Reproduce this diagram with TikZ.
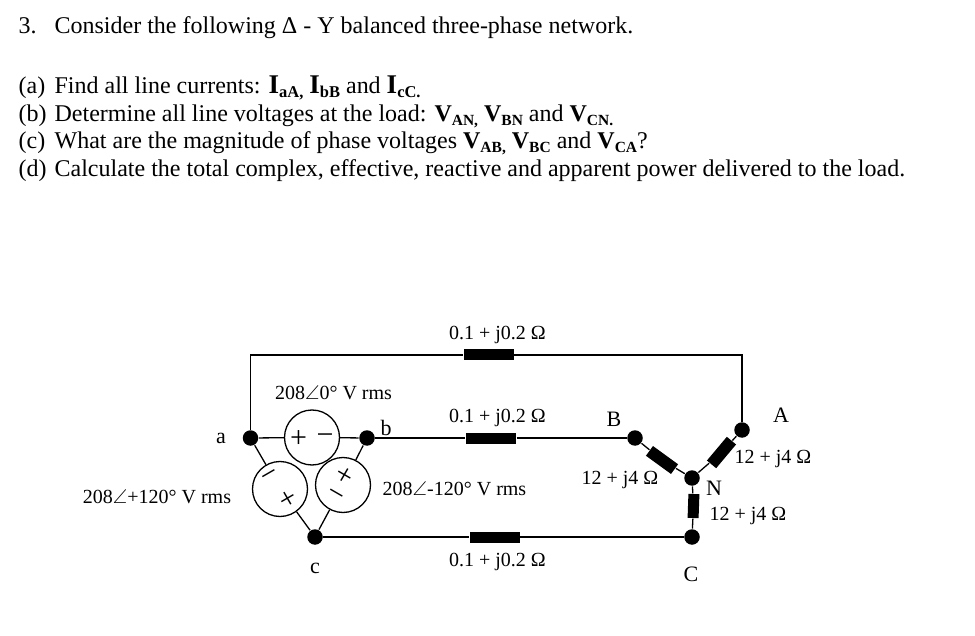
\documentclass[tikz,border=0pt]{standalone}
\usepackage{amsmath,amssymb}
\usepackage{xcolor}
\usepackage{fontspec}
\setmainfont{Liberation Serif}
\usetikzlibrary{shapes}

\newcommand{\bigtxt}{\fontsize{24}{28}\selectfont}
\newcommand{\smalltxt}{\fontsize{20}{24}\selectfont}
\newcommand{\lab}[2]{\textbf{#1\raisebox{-0.3ex}{\fontsize{15.5}{15.5}\selectfont #2}}}
\newcommand{\labI}[2]{\textbf{\fontsize{27}{28}\selectfont #1\raisebox{-0.3ex}{\fontsize{16.5}{16.5}\selectfont #2}}}
\newcommand{\itm}[1]{\makebox[36pt][l]{#1}}

\begin{document}
\begin{tikzpicture}[x=1pt, y=-1pt, line width=1.3pt, inner sep=0pt, font=\smalltxt]
\useasboundingbox (0,0) rectangle (975,636);

\tikzstyle{line}=[anchor=base west, font=\bigtxt]
\tikzstyle{dot}=[circle, fill=black, minimum size=15.5pt]
\tikzstyle{res}=[rectangle, fill=black, minimum width=50pt, minimum height=11pt]
\tikzstyle{load}=[res, minimum width=31pt, minimum height=12pt]
\tikzstyle{src}=[circle, draw, minimum size=55pt]
\tikzstyle{sign}=[font=\fontsize{30}{30}\selectfont]
\tikzstyle{letter}=[font=\fontsize{22}{24}\selectfont]

% question text
\node [line] (q0) at (18,34) {\itm{3.}Consider the following Δ - Y balanced three-phase network.};
\node [line] (qa) at (18,94) {\itm{(a)}Find all line currents: \labI{I}{aA,} \labI{I}{bB} and \labI{I}{cC.}};
\node [line] (qb) at (18,122) {\itm{(b)}Determine all line voltages at the load: \lab{V}{AN,} \lab{V}{BN} and \lab{V}{CN.}};
\node [line] (qc) at (18,149) {\itm{(c)}What are the magnitude of phase voltages \lab{V}{AB,} \lab{V}{BC} and \lab{V}{CA}?};
\node [line] (qd) at (18,177) {\itm{(d)}Calculate the total complex, effective, reactive and apparent power delivered to the load.};

% source side
\node [dot] (a) at (250.5,438) {};
\node [dot] (b) at (367,438) {};
\node [dot] (c) at (315,537) {};
\node [src] (sab) at (312,437.5) {};
\node [src] (sca) at (280,489) {};
\node [src] (sbc) at (343,485) {};

% load side
\node [dot] (A) at (742,430) {};
\node [dot] (B) at (635,438) {};
\node [dot] (C) at (692,537) {};
\node [dot] (N) at (692,478) {};

\node [res] (ra) at (488.5,355) {};
\node [res] (rb) at (491,438) {};
\node [res] (rc) at (494.5,537) {};
\node [load, rotate=50] (la) at (721.5,452.5) {};
\node [load, rotate=-36] (lb) at (662,460) {};
\node [load, rotate=88, minimum width=24pt, minimum height=11pt] (lc) at (693.5,506) {};

\draw (a) |- (ra);
\draw (ra) -| (A);
\path
(a) edge (sab)
(sab) edge (b)
(a) edge (sca)
(sca) edge (c)
(b) edge (sbc)
(sbc) edge (c)
(b) edge (rb)
(rb) edge (B)
(c) edge (rc)
(rc) edge (C)
(A) edge (la)
(la) edge (N)
(B) edge (lb)
(lb) edge (N)
(N) edge (lc)
(lc) edge (C);

% signs
\node [sign] (p1) at (298.5,439) {+};
\node [sign] (m1) at (325,439) {\textminus};
\node [sign, rotate=30] (m2) at (271,478) {\textminus};
\node [sign, rotate=30] (p2) at (289,500) {+};
\node [sign, rotate=-30] (p3) at (344,476) {+};
\node [sign, rotate=-30] (m3) at (334,497) {\textminus};

% labels
\node (la1) at (497.5,335) {0.1 + j0.2 Ω};
\node (la2) at (497.5,418) {0.1 + j0.2 Ω};
\node (la3) at (497.5,562) {0.1 + j0.2 Ω};
\node (lz1) at (773,459) {12 + j4 Ω};
\node (lz2) at (620,480) {12 + j4 Ω};
\node (lz3) at (748,516) {12 + j4 Ω};
\node (v1) at (333.5,393) {208$\angle$0° V rms};
\node (v2) at (157,497) {208$\angle$+120° V rms};
\node (v3) at (454.5,489) {208$\angle$-120° V rms};
\node [letter] (ta) at (221,438) {a};
\node [letter] (tb) at (386,428) {b};
\node [letter] (tc) at (315,568) {c};
\node [letter] (tA) at (781,415) {A};
\node [letter] (tB) at (614,419) {B};
\node [letter] (tC) at (691,574) {C};
\node [letter] (tN) at (714,488) {N};
\end{tikzpicture}
\end{document}
